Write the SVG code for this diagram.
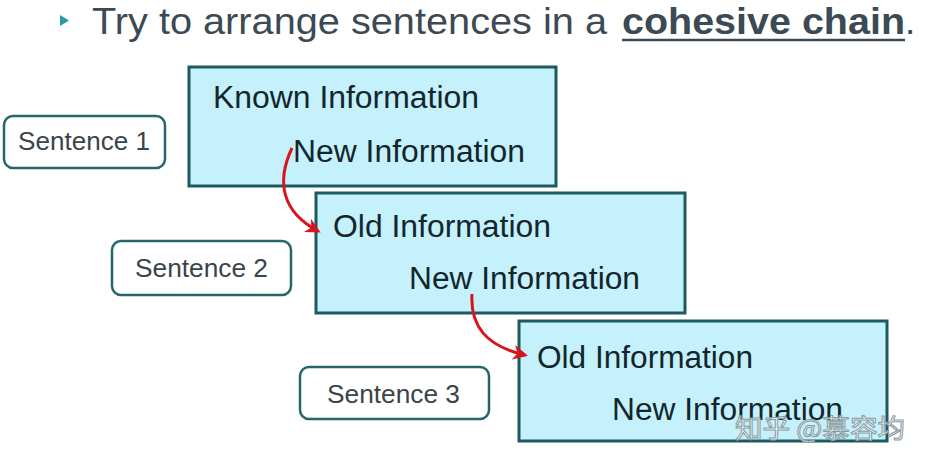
<svg xmlns="http://www.w3.org/2000/svg" width="933" height="465" viewBox="0 0 933 465">
<defs>
<style>
.info{fill:#c4f1fb;stroke:#1d5a5f;stroke-width:3}
.sent{fill:#ffffff;stroke:#24666b;stroke-width:2.5}
.t{font-family:"Liberation Sans",Arial,sans-serif;fill:#13262c;font-size:31px}
.s{font-family:"Liberation Sans",Arial,sans-serif;fill:#3a4449;font-size:26px}
.arr{fill:none;stroke:#d8141e;stroke-width:3}
</style>
<marker id="ah" viewBox="0 0 10 10" refX="8" refY="5" markerWidth="5" markerHeight="5" orient="auto" markerUnits="strokeWidth">
<path d="M0,0 L10,5 L0,10 L3,5 Z" fill="#d8141e"/>
</marker>
</defs>
<rect width="933" height="465" fill="#ffffff"/>
<g id="title">
<path d="M60,15 L69,20.5 L60,26 Z" fill="#2b9aa5"/>
<text x="92" y="34" font-family="'Liberation Sans',Arial,sans-serif" font-size="37" fill="#3b4a54" textLength="515" lengthAdjust="spacingAndGlyphs">Try to arrange sentences in a</text>
<text x="622" y="34" font-family="'Liberation Sans',Arial,sans-serif" font-size="37" font-weight="bold" fill="#3b4a54" textLength="283" lengthAdjust="spacingAndGlyphs">cohesive chain</text>
<line x1="622" y1="40" x2="905" y2="40" stroke="#3b4a54" stroke-width="2.5"/>
<text x="905" y="34" font-family="'Liberation Sans',Arial,sans-serif" font-size="37" fill="#3b4a54">.</text>
</g>
<g id="box1">
<rect class="info" x="189" y="67" width="367" height="119"/>
<text class="t" x="213" y="108" textLength="266" lengthAdjust="spacingAndGlyphs">Known Information</text>
<text class="t" x="293" y="162" textLength="232" lengthAdjust="spacingAndGlyphs">New Information</text>
</g>
<g id="sentence1">
<rect class="sent" x="4" y="116" width="161" height="52" rx="9"/>
<text class="s" x="18" y="150" textLength="132" lengthAdjust="spacingAndGlyphs">Sentence 1</text>
</g>
<g id="box2">
<rect class="info" x="316" y="193" width="369" height="120"/>
<text class="t" x="333" y="237" textLength="218" lengthAdjust="spacingAndGlyphs">Old Information</text>
<text class="t" x="409" y="289" textLength="231" lengthAdjust="spacingAndGlyphs">New Information</text>
</g>
<g id="sentence2">
<rect class="sent" x="112" y="241" width="179" height="54" rx="9"/>
<text class="s" x="135" y="277" textLength="133" lengthAdjust="spacingAndGlyphs">Sentence 2</text>
</g>
<g id="box3">
<rect class="info" x="519" y="321" width="368" height="120"/>
<text class="t" x="537" y="368" textLength="216" lengthAdjust="spacingAndGlyphs">Old Information</text>
<text class="t" x="612" y="420" textLength="231" lengthAdjust="spacingAndGlyphs">New Information</text>
</g>
<g id="sentence3">
<rect class="sent" x="300" y="367" width="189" height="52" rx="9"/>
<text class="s" x="327" y="403" textLength="133" lengthAdjust="spacingAndGlyphs">Sentence 3</text>
</g>
<g id="connectors">
<path class="arr" d="M292,148 C276,182 282,212 318,231" marker-end="url(#ah)"/>
<path class="arr" d="M472,294 C470,326 486,346 525,355" marker-end="url(#ah)"/>
</g>
<g id="watermark">
<text x="735" y="438" font-family="'Noto Sans CJK SC',sans-serif" font-size="26" fill="#ffffff" fill-opacity="0.8" stroke="#8a9a9e" stroke-width="1" textLength="170" lengthAdjust="spacingAndGlyphs">知乎 @慕容均</text>
</g>
</svg>
